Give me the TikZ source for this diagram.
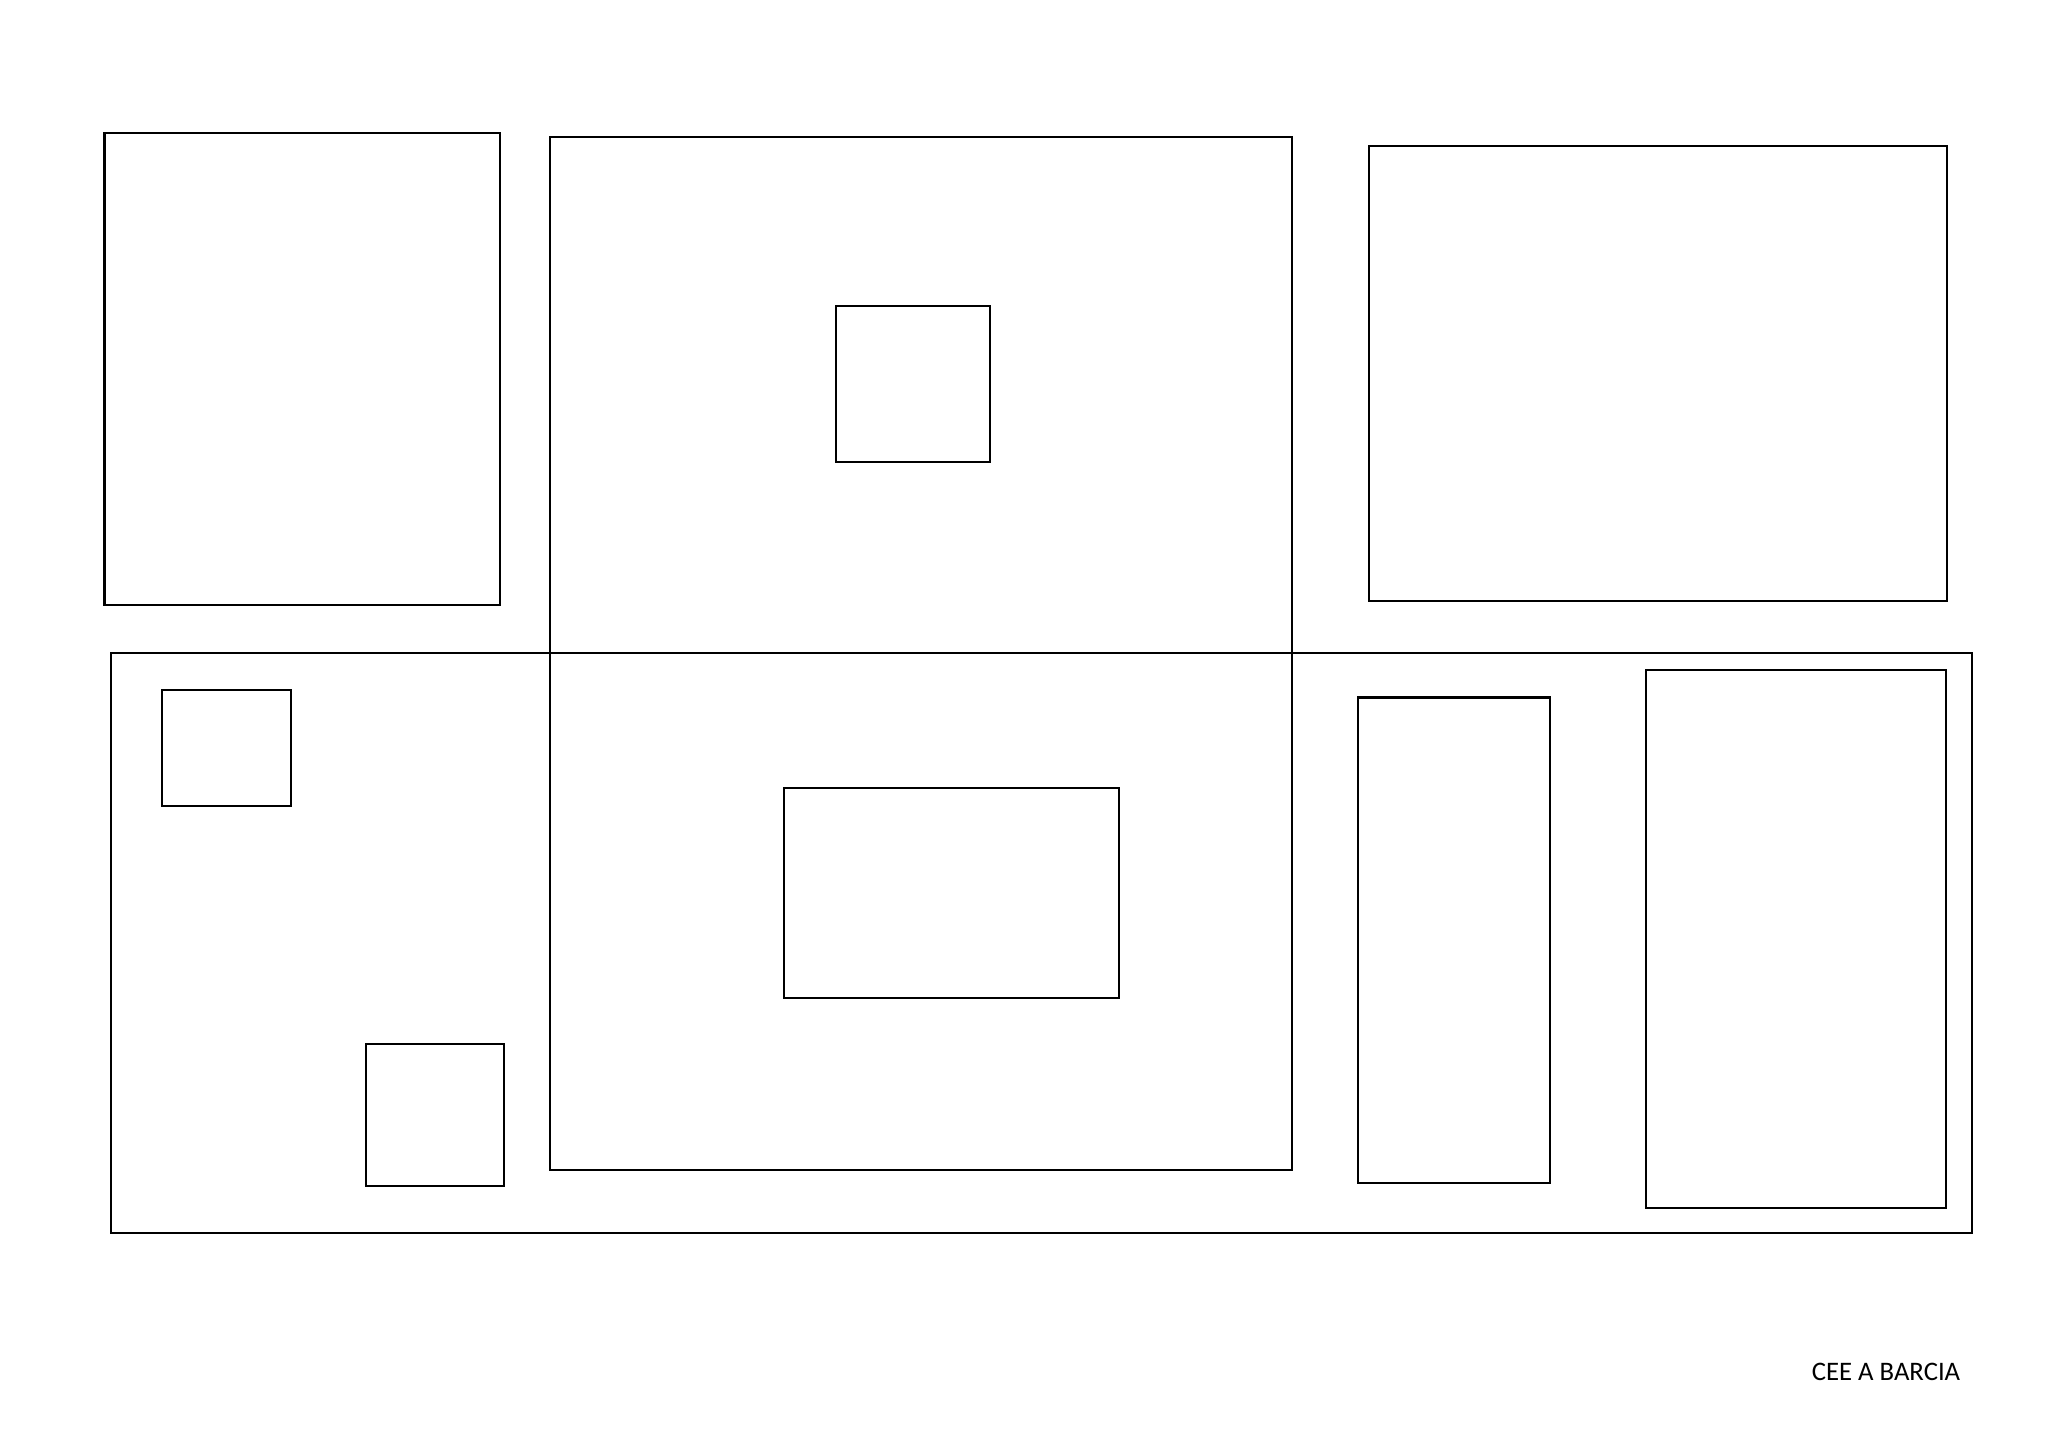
\documentclass[tikz,border=0pt]{standalone}
\usepackage{fontspec}
\setmainfont{Carlito}
\usepackage{tikz}
\tikzset{caixa/.style={draw=black,line width=0.6pt}}

\begin{document}
\begin{tikzpicture}[x=0.01cm,y=-0.01cm]
    \useasboundingbox (0,0) rectangle (2048,1448);
    % fila de arriba
    \draw[caixa] (104.5,133.2) rectangle (500.2,604.7);
    \draw[caixa] (549.9,137.1) rectangle (1291.7,1170.3);
    \draw[caixa] (835.9,305.6) rectangle (990.0,462.4);
    \draw[caixa] (1368.8,146.3) rectangle (1947.4,600.8);
    % fila de abaixo
    \draw[caixa] (111.0,653.1) rectangle (1972.2,1233.0);
    \draw[caixa] (162.0,689.6) rectangle (291.3,805.9);
    \draw[caixa] (365.7,1043.6) rectangle (504.1,1185.9);
    \draw[caixa] (783.7,787.6) rectangle (1119.3,997.9);
    \draw[caixa] (1358.3,697.5) rectangle (1550.3,1183.3);
    \draw[caixa] (1645.7,670.0) rectangle (1946.1,1208.1);
    \node[font=\fontsize{7.6}{9}\selectfont,inner sep=0pt] (centro) at (1886,1371.5) {CEE A BARCIA};
\end{tikzpicture}
\end{document}
